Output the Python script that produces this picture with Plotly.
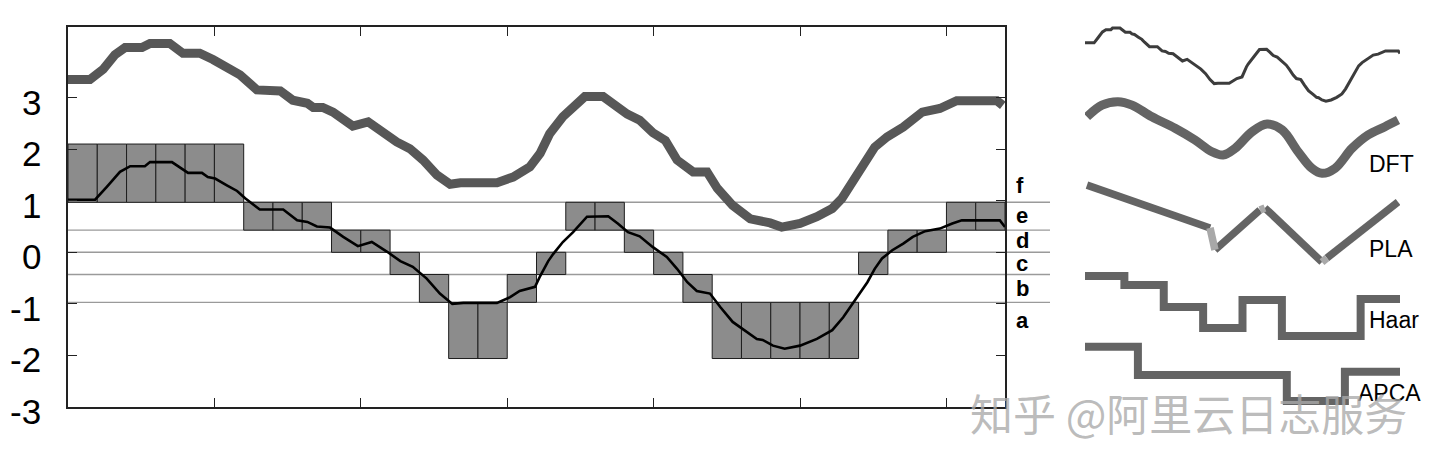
import plotly.graph_objects as go

# ---------------- data ----------------
# normalised time series (thin black line), index 0..128
series_t = [0, 3.7, 5.3, 7.1, 8.5, 10.5, 11.2, 14.2, 16.4, 18.3,
            19.1, 20.1, 21.7, 23.1, 24.2, 26.2, 29.4, 31.3, 32.7, 34.0,
            35.8, 37.6, 39.6, 41.5, 43.6, 45.4, 47.1, 49.0, 50.8, 52.5,
            54.0, 58.6, 60.4, 61.7, 63.8, 64.5, 65.6, 66.3, 67.6, 69.0,
            70.9, 73.8, 75.1, 76.5, 78.1, 79.9, 81.8, 83.2, 84.6, 85.9,
            87.7, 89.1, 90.8, 92.8, 94.1, 94.9, 96.3, 97.9, 100.0, 102.3,
            104.4, 105.9, 107.5, 109.2, 110.2, 111.2, 112.6, 114.1, 115.4, 117.1,
            119.1, 120.8, 122.1, 127.3, 128]
series_v = [1.02, 1.02, 1.27, 1.56, 1.67, 1.67, 1.75, 1.75, 1.54, 1.54,
            1.46, 1.43, 1.30, 1.19, 1.05, 0.83, 0.83, 0.62, 0.59, 0.50,
            0.48, 0.30, 0.12, 0.20, 0.01, -0.17, -0.28, -0.51, -0.80, -1.00,
            -0.98, -0.98, -0.87, -0.75, -0.67, -0.46, -0.17, -0.03, 0.20, 0.39,
            0.69, 0.70, 0.56, 0.39, 0.31, 0.10, -0.09, -0.32, -0.58, -0.75,
            -0.80, -1.06, -1.35, -1.55, -1.68, -1.70, -1.81, -1.87, -1.81, -1.68,
            -1.51, -1.26, -0.93, -0.58, -0.32, -0.12, 0.04, 0.17, 0.30, 0.41,
            0.46, 0.56, 0.62, 0.62, 0.49]

# raw series (thick grey line at the top)
raw_t = [0, 3.0, 4.8, 6.4, 7.8, 10.1, 11.2, 13.9, 15.7, 18.0,
         19.8, 21.7, 23.5, 25.8, 29.0, 30.7, 32.7, 33.5, 34.8, 36.2,
         38.9, 41.0, 43.0, 44.9, 46.7, 48.5, 50.4, 52.2, 53.6, 58.6,
         60.8, 63.1, 64.5, 65.8, 67.6, 69.0, 70.6, 73.1, 76.4, 78.1,
         79.9, 81.6, 83.2, 85.4, 87.3, 88.7, 90.8, 93.2, 94.5, 95.9,
         97.5, 100.0, 102.3, 104.4, 105.7, 107.2, 108.6, 110.2, 111.9, 114.1,
         116.7, 119.1, 121.4, 126.9, 127.7]
raw_v = [3.35, 3.35, 3.55, 3.83, 3.97, 3.97, 4.05, 4.05, 3.86, 3.86,
         3.74, 3.60, 3.44, 3.15, 3.13, 2.95, 2.89, 2.81, 2.81, 2.72,
         2.45, 2.53, 2.32, 2.14, 2.01, 1.79, 1.50, 1.32, 1.35, 1.35,
         1.46, 1.66, 1.92, 2.30, 2.63, 2.83, 3.02, 3.02, 2.68, 2.56,
         2.32, 2.17, 1.79, 1.56, 1.56, 1.24, 0.91, 0.65, 0.63, 0.57,
         0.49, 0.56, 0.69, 0.85, 1.04, 1.40, 1.72, 2.04, 2.24, 2.43,
         2.72, 2.79, 2.94, 2.94, 2.85]

# SAX word, 32 segments of 4 points
sax_word = list("ffffffeeeddcbaabceedcbaaaaacddee")
seg_len = 4
sax_letters = ["a", "b", "c", "d", "e", "f"]
breakpoints = [-0.97, -0.43, 0.0, 0.43, 0.97]
box_low, box_high = -2.06, 2.10

y_tick_labels = [3, 2, 1, 0, -1, -2, -3]

# alternative representations (right column)
dft_t = [0.8, 6.9, 13.4, 19.1, 27.2, 36.6, 44.7, 51.6, 56.1, 61.0, 67.9,
         74.0, 80.1, 86.6, 92.2, 96.3, 101.6, 108.5, 115.0, 121.9, 127.2]
dft_v = [1.02, 1.60, 1.77, 1.60, 1.02, 0.45, -0.13, -0.71, -0.87, -0.54, 0.28,
         0.66, 0.37, -0.71, -1.53, -1.78, -1.53, -0.54, 0.12, 0.53, 0.86]

pla_t = [0.8, 50.8, None, 52.8, 71.1, None, 73.1, 96.3, None, 98.3, 127.2]
pla_v = [1.53, -0.59, None, -1.68, 0.30, None, 0.40, -2.28, None, -2.08, 0.69]
pla_gap_t = [50.8, 52.8, None, 71.1, 73.1, None, 96.3, 98.3]
pla_gap_v = [-0.59, -1.68, None, 0.30, 0.40, None, -2.28, -2.08]

haar_t = [0, 16, 32, 48, 64, 80, 96, 112, 128]
haar_v = [1.49, 1.04, -0.05, -1.09, 0.30, -1.49, -1.49, 0.35, 0.35]

apca_t = [0, 21.5, 82, 105.6, 128]
apca_v = [1.25, -0.15, -1.44, 0.01, 0.01]

panel_names = ["DFT", "PLA", "Haar", "APCA"]

# ---------------- layout helpers ----------------
W, H = 1440, 470
FONT = "Liberation Sans, Arial, sans-serif"


def fx(p):
    return p / W


def fy(p):
    return 1 - p / H


fig = go.Figure()

# SAX boxes
lows = {s: lo for s, lo in zip(sax_letters, [box_low] + breakpoints)}
highs = {s: hi for s, hi in zip(sax_letters, breakpoints + [box_high])}
box_x = [i * seg_len + seg_len / 2 for i in range(len(sax_word))]
fig.add_trace(go.Bar(
    x=box_x,
    y=[highs[s] - lows[s] for s in sax_word],
    base=[lows[s] for s in sax_word],
    width=seg_len,
    marker=dict(color="#8c8c8c", line=dict(color="#1e1e1e", width=1)),
    showlegend=False, hoverinfo="skip",
))

# normalised series
fig.add_trace(go.Scatter(x=series_t, y=series_v, mode="lines",
                         line=dict(color="#000000", width=2.6),
                         showlegend=False))
# raw series
fig.add_trace(go.Scatter(x=raw_t, y=raw_v, mode="lines",
                         line=dict(color="#575757", width=9),
                         showlegend=False))

# ---------------- right column panels ----------------
k = 20.2  # px per unit in the small panels
panel_rows = [63.4, 137.4, 216, 306, 372]  # pixel row of value 0 per panel
half = 2.5
layout_axes = {}
for i, z in enumerate(panel_rows):
    n = i + 2
    layout_axes[f"xaxis{n}"] = dict(domain=[fx(1085), fx(1400)], range=[0, 128],
                                    visible=False, anchor=f"y{n}")
    layout_axes[f"yaxis{n}"] = dict(domain=[fy(z + half * k), fy(z - half * k)],
                                    range=[-half, half], visible=False,
                                    anchor=f"x{n}")

grey = "#646464"
fig.add_trace(go.Scatter(x=series_t, y=series_v, mode="lines", xaxis="x2", yaxis="y2",
                         line=dict(color="#3c3c3c", width=3), showlegend=False))
fig.add_trace(go.Scatter(x=dft_t, y=dft_v, mode="lines", xaxis="x3", yaxis="y3",
                         line=dict(color=grey, width=9, shape="spline"), showlegend=False))
fig.add_trace(go.Scatter(x=pla_t, y=pla_v, mode="lines", xaxis="x4", yaxis="y4",
                         line=dict(color=grey, width=7.5), showlegend=False))
fig.add_trace(go.Scatter(x=pla_gap_t, y=pla_gap_v, mode="lines", xaxis="x4", yaxis="y4",
                         line=dict(color="#a8a8a8", width=7.5), showlegend=False))
fig.add_trace(go.Scatter(x=haar_t, y=haar_v, mode="lines", xaxis="x5", yaxis="y5",
                         line=dict(color=grey, width=8, shape="hv"), showlegend=False))
fig.add_trace(go.Scatter(x=apca_t, y=apca_v, mode="lines", xaxis="x6", yaxis="y6",
                         line=dict(color=grey, width=8, shape="hv"), showlegend=False))

# ---------------- shapes & annotations ----------------
shapes = []
for b in breakpoints:
    shapes.append(dict(type="line", xref="paper", yref="y",
                       x0=fx(68), x1=fx(1050), y0=b, y1=b,
                       line=dict(color="#9a9a9a", width=1.4), layer="below"))

annotations = []
for v in y_tick_labels:
    annotations.append(dict(x=fx(42.5), xref="paper", y=v, yref="y", yshift=-4.5,
                            text=str(v), showarrow=False, xanchor="right",
                            yanchor="middle",
                            font=dict(family=FONT, size=35, color="#000000")))

letter_y = {"f": 1.30, "e": 0.71, "d": 0.22, "c": -0.21, "b": -0.70, "a": -1.32}
for s in sax_letters:
    annotations.append(dict(x=fx(1014), xref="paper", y=letter_y[s], yref="y",
                            text=f"<b>{s}</b>", showarrow=False, xanchor="left",
                            yanchor="middle",
                            font=dict(family=FONT, size=22, color="#000000")))

name_pos = {"DFT": (1367, 163.5), "PLA": (1367, 249), "Haar": (1367, 320),
            "APCA": (1356, 393)}
for nme in panel_names:
    px_, py_ = name_pos[nme]
    annotations.append(dict(x=fx(px_), xref="paper", y=fy(py_), yref="paper",
                            text=nme, showarrow=False, xanchor="left",
                            yanchor="middle",
                            font=dict(family=FONT, size=23, color="#000000")))

annotations.append(dict(x=fx(968), xref="paper", y=fy(412), yref="paper",
                        text="知乎 @阿里云日志服务", showarrow=False,
                        xanchor="left", yanchor="middle",
                        font=dict(family="Noto Sans CJK SC", size=43,
                                  color="rgba(170,170,170,0.8)")))

axis_common = dict(showline=True, linecolor="#222222", linewidth=1.5,
                   mirror="ticks", ticks="inside", ticklen=9, tickwidth=1.2,
                   tickcolor="#222222", showgrid=False, zeroline=False,
                   showticklabels=False)

fig.update_layout(
    width=W, height=H,
    margin=dict(l=0, r=0, t=0, b=0),
    paper_bgcolor="#ffffff",
    plot_bgcolor="rgba(0,0,0,0)",
    barmode="overlay",
    showlegend=False,
    xaxis=dict(domain=[fx(68), fx(1005)], range=[0, 128], tick0=0, dtick=20,
               **axis_common),
    yaxis=dict(domain=[fy(407), fy(27)], range=[-3, 4.37],
               tickvals=[-2, -1, 0, 1, 2, 3], **axis_common),
    shapes=shapes,
    annotations=annotations,
    **layout_axes,
)

fig.write_html(
    "out.html",
    config={"displayModeBar": False},
    post_script="document.body.style.margin='0';document.body.style.overflow='hidden';",
)
